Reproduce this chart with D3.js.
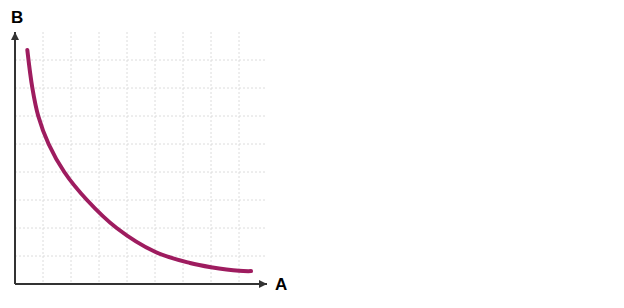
<!DOCTYPE html>
<html lang="en">
<head>
    <meta charset="UTF-8">
    <title>A vs B curve</title>
    <script src="https://cdn.jsdelivr.net/npm/d3@7"></script>
    <style>
        body { margin: 0; background: #fff; }
        .grid line {
            stroke: #dcdcdc;
            stroke-width: 1;
            stroke-dasharray: 2,2;
        }
        .axis-line {
            stroke: #333;
            stroke-width: 2;
        }
        .label {
            font-family: "Liberation Sans", Arial, sans-serif;
            font-weight: bold;
            font-size: 17px;
            fill: #000;
        }
    </style>
</head>
<body>
    <svg width="624" height="308"></svg>

    <script>
        // Data (grid units, 0..9 on both axes)
        const gridTicks = [1, 2, 3, 4, 5, 6, 7, 8];
        const curveA = [0.44, 0.62, 0.83, 1.2, 1.76, 2.57, 3.63, 5.0, 6.25, 7.0, 8.0, 8.43];
        const curveB = [8.36, 7.0, 6.0, 5.0, 4.0, 3.0, 2.0, 1.15, 0.75, 0.6, 0.47, 0.46];
        const axisLabels = ["A", "B"];

        const svg = d3.select("svg");

        const x = d3.scaleLinear().domain([0, 9]).range([15, 267]);
        const y = d3.scaleLinear().domain([0, 9]).range([284, 32]);

        // Arrow marker
        svg.append("defs").append("marker")
            .attr("id", "arrow")
            .attr("viewBox", "0 -5 10 10")
            .attr("refX", 10)
            .attr("refY", 0)
            .attr("markerWidth", 4.2)
            .attr("markerHeight", 4.2)
            .attr("markerUnits", "strokeWidth")
            .attr("orient", "auto")
            .append("path")
            .attr("d", "M0,-5L10,0L0,5Z")
            .attr("fill", "#333");

        // Grid
        const grid = svg.append("g").attr("class", "grid");
        grid.selectAll(".v")
            .data(gridTicks)
            .enter().append("line")
            .attr("x1", d => x(d)).attr("x2", d => x(d))
            .attr("y1", y(9)).attr("y2", y(0));
        grid.selectAll(".h")
            .data(gridTicks)
            .enter().append("line")
            .attr("y1", d => y(d)).attr("y2", d => y(d))
            .attr("x1", x(0)).attr("x2", x(9));

        // Axes
        svg.append("line")
            .attr("class", "axis-line")
            .attr("x1", x(0)).attr("y1", y(0))
            .attr("x2", x(9)).attr("y2", y(0))
            .attr("marker-end", "url(#arrow)");
        svg.append("line")
            .attr("class", "axis-line")
            .attr("x1", x(0)).attr("y1", y(0))
            .attr("x2", x(0)).attr("y2", y(9))
            .attr("marker-end", "url(#arrow)");

        // Curve
        const pts = curveA.map((a, i) => [a, curveB[i]]);
        const line = d3.line()
            .x(d => x(d[0]))
            .y(d => y(d[1]))
            .curve(d3.curveCatmullRom.alpha(0.5));

        svg.append("path")
            .datum(pts)
            .attr("fill", "none")
            .attr("stroke", "#9e1c5f")
            .attr("stroke-width", 4)
            .attr("stroke-linecap", "round")
            .attr("d", line);

        // Labels
        svg.append("text")
            .attr("class", "label")
            .attr("x", x(9) + 8)
            .attr("y", y(0) + 6)
            .text(axisLabels[0]);
        svg.append("text")
            .attr("class", "label")
            .attr("x", 11)
            .attr("y", 23)
            .text(axisLabels[1]);
    </script>
</body>
</html>
